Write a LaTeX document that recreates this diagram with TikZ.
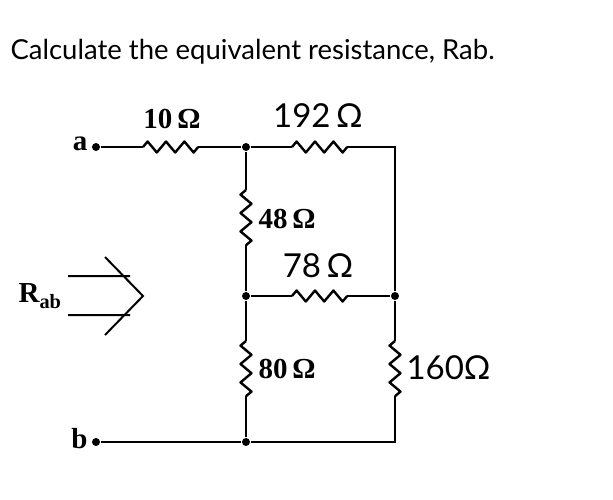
\documentclass[tikz,border=0pt]{standalone}
\usepackage{fontspec}
\setmainfont{Liberation Serif}
\newfontfamily\latofont{Lato}
\begin{document}
\begin{tikzpicture}[x=1pt,y=-1pt,line width=2.4pt,
  dot/.style={circle,fill,inner sep=0pt,minimum size=8pt},
  ser/.style={font=\fontsize{29}{29}\selectfont\bfseries},
  sans/.style={font=\latofont\fontsize{33}{33}\selectfont},
  hres/.pic={\draw[line join=round] (0,0) -- ++(4.6,-5.5) -- ++(9.2,11) -- ++(9.2,-11) -- ++(9.2,11) -- ++(9.2,-11) -- ++(9.2,11) -- ++(4.6,-5.5);},
  vres/.pic={\draw[line join=round] (0,0) -- ++(-5.5,4.6) -- ++(11,9.2) -- ++(-11,9.2) -- ++(11,9.2) -- ++(-11,9.2) -- ++(11,9.2) -- ++(-5.5,4.6);}]
\useasboundingbox (0,0) rectangle (613,499);
\node[anchor=west,font=\latofont\fontsize{27.5}{27.5}\selectfont] (title) at (6,52) {Calculate the equivalent resistance, Rab.};
\node[dot] (a) at (96,147) {};
\node[dot] (n1) at (246,147) {};
\coordinate (tr) at (395,147);
\node[dot] (n2) at (246,296) {};
\node[dot] (n3) at (395,296) {};
\node[dot] (b) at (96,442) {};
\node[dot] (n4) at (246,442) {};
\coordinate (br) at (395,442);
\coordinate (r1a) at (143,147); \coordinate (r1b) at (198,147);
\coordinate (r2a) at (292,147); \coordinate (r2b) at (347,147);
\coordinate (r3a) at (246,190); \coordinate (r3b) at (246,245);
\coordinate (r4a) at (292,296); \coordinate (r4b) at (347,296);
\coordinate (r5a) at (246,341); \coordinate (r5b) at (246,396);
\coordinate (r6a) at (395,341); \coordinate (r6b) at (395,396);
\draw (a) -- (r1a) (r1b) -- (n1) -- (r2a) (r2b) -- (tr) -- (n3) -- (r6a) (r6b) -- (br) -- (n4) -- (b);
\draw (n1) -- (r3a) (r3b) -- (n2) -- (r5a) (r5b) -- (n4);
\draw (n2) -- (r4a) (r4b) -- (n3);
\pic at (r1a) {hres}; \pic at (r2a) {hres}; \pic at (r4a) {hres};
\pic at (r3a) {vres}; \pic at (r5a) {vres}; \pic at (r6a) {vres};
\node[ser] (l10) at (172,119) {10\,Ω};
\node[sans] (l192) at (318,116) {192\,Ω};
\node[ser,anchor=west] (l48) at (254,219) {48\,Ω};
\node[sans] (l78) at (318,266) {78\,Ω};
\node[ser,anchor=west] (l80) at (254,369) {80\,Ω};
\node[sans,anchor=west] (l160) at (402,368) {160Ω};
\node[ser,anchor=east] (la) at (92,144) {a};
\node[ser,anchor=east] (lb) at (92,439) {b};
\node[ser] (lr) at (40,296) {R\textsubscript{ab}};
\coordinate (ar1) at (68,276); \coordinate (ar1e) at (130,276);
\coordinate (ar2) at (68,315); \coordinate (ar2e) at (130,315);
\coordinate (c1) at (105,257); \coordinate (c2) at (143,296); \coordinate (c3) at (105,335);
\draw[line width=2pt] (ar1) -- (ar1e) (ar2) -- (ar2e) (c1) -- (c2) -- (c3);
\end{tikzpicture}
\end{document}
